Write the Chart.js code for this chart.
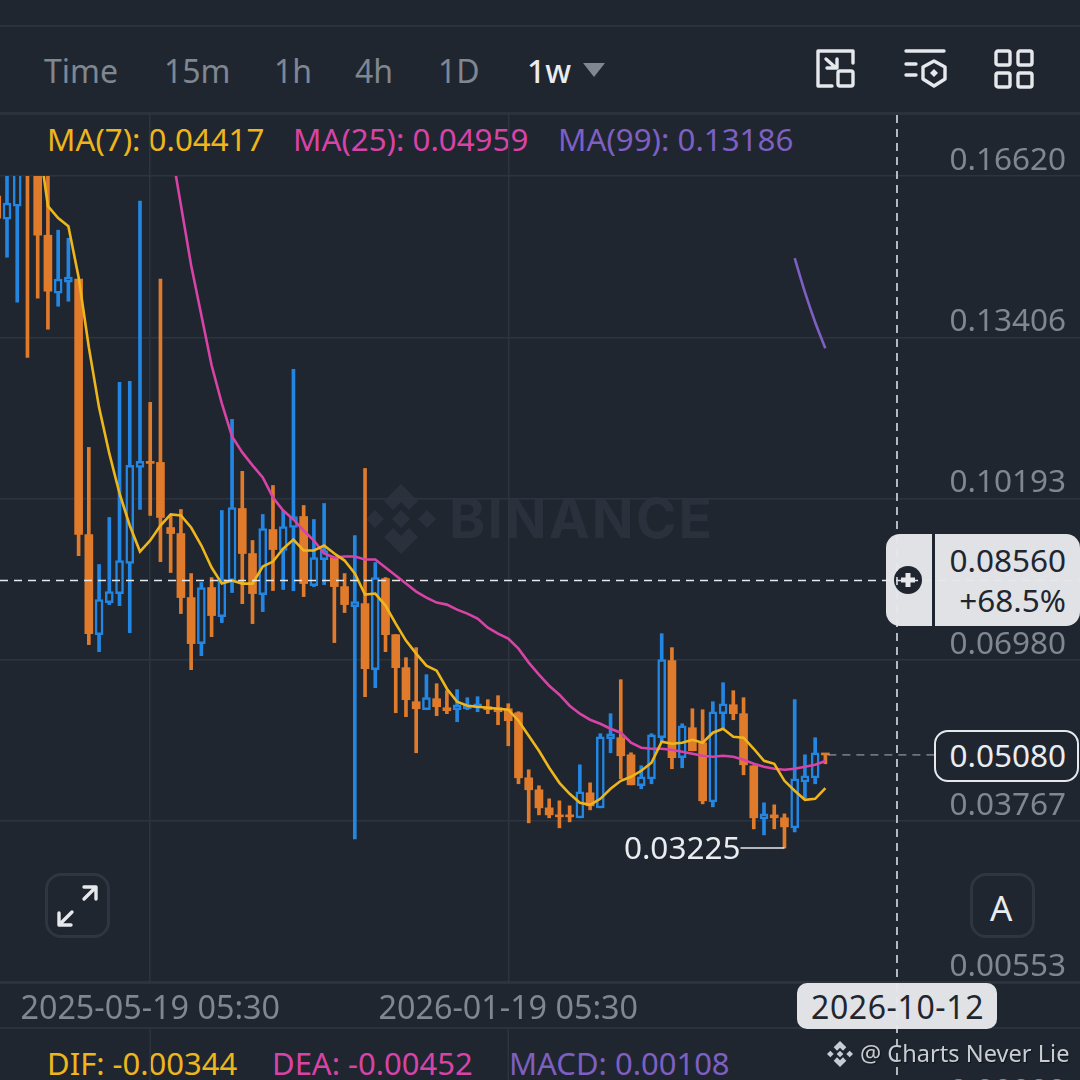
<!DOCTYPE html>
<html lang="en">
<head>
<meta charset="UTF-8">
<title>1w chart</title>
<script src="https://cdn.jsdelivr.net/npm/chart.js"></script>
<style>
    html, body { margin: 0; padding: 0; background: #1f2630; }
    body { position: relative; width: 1080px; height: 1080px; overflow: hidden; font-family: "Noto Sans", sans-serif; }
    canvas { position: absolute; left: 0; top: 0; z-index: 5; }
    .t { position: absolute; white-space: nowrap; line-height: 1; transform: translateY(-50%); }
    .tab { color: #7f8791; font-size: 32px; top: 71px; }
    .leg { font-size: 31.3px; top: 140px; }
    .macd { font-size: 31px; top: 1063px; }
    .hline { position: absolute; left: 0; width: 1080px; height: 2px; background: #2b323d; }
    .box { position: absolute; box-sizing: border-box; border-radius: 14px; }
    .num { font-size: 31.5px; right: 14px; }
    svg { position: absolute; }
</style>
</head>
<body>
<div class="hline" style="top:25px"></div>
<div class="hline" style="top:112px;height:3px"></div>

<div class="t tab" style="left:44px">Time</div>
<div class="t tab" style="left:164px">15m</div>
<div class="t tab" style="left:274px">1h</div>
<div class="t tab" style="left:355px">4h</div>
<div class="t tab" style="left:438px">1D</div>
<div class="t tab" style="left:527px;color:#eaecef;font-weight:500">1w</div>
<svg style="left:582px;top:62px" width="24" height="16"><path d="M1 1H23L12 15Z" fill="#7f8791"/></svg>

<svg style="left:815px;top:48px" width="42" height="42" fill="none" stroke="#e6e8ec" stroke-width="3.4" stroke-linecap="round" stroke-linejoin="round">
    <path d="M17 38H3V3H38V15"/><rect x="23" y="23" width="15" height="15" rx="2"/><path d="M11 11L21 20M22 11V20H12"/>
</svg>
<svg style="left:903px;top:48px" width="46" height="42" fill="none" stroke="#e6e8ec" stroke-width="3.4" stroke-linecap="round" stroke-linejoin="round">
    <path d="M3 3H41M3 16H13M3 27H13"/><path d="M31 13L42 19V31L31 38L20 31V19Z"/><path d="M31 21L35 25L31 29L27 25Z" fill="#e6e8ec" stroke="none"/>
</svg>
<svg style="left:993px;top:48px" width="42" height="42" fill="none" stroke="#e6e8ec" stroke-width="3.4" stroke-linejoin="round">
    <rect x="3" y="3" width="14" height="14" rx="2"/><rect x="25" y="3" width="14" height="14" rx="2"/>
    <rect x="3" y="25" width="14" height="14" rx="2"/><rect x="25" y="25" width="14" height="14" rx="2"/>
</svg>

<div class="t leg" style="left:47px;color:#eeb61b">MA(7): 0.04417</div>
<div class="t leg" style="left:293px;color:#d843a6">MA(25): 0.04959</div>
<div class="t leg" style="left:558px;color:#7e5fc2">MA(99): 0.13186</div>

<!-- watermark under the canvas -->
<svg style="left:366px;top:484px" width="70" height="70" viewBox="0 0 70 70" fill="#2a313c">
    <path d="M35 0L52 17L43 26L35 18L27 26L18 17Z"/><path d="M35 70L52 53L43 44L35 52L27 44L18 53Z"/>
    <path d="M9 26L18 35L9 44L0 35Z"/><path d="M61 26L70 35L61 44L52 35Z"/><path d="M35 26L44 35L35 44L26 35Z"/>
</svg>
<div class="t" style="left:449px;top:518px;font-family:Inter,sans-serif;font-size:55px;font-weight:700;color:#2a313c;letter-spacing:2px">BINANCE</div>

<!-- price tag at the crosshair -->
<div class="box" style="left:886px;top:534px;width:194px;height:92px;background:#e0e2e6"></div>
<div style="position:absolute;left:932px;top:534px;width:3px;height:92px;background:#1f2630"></div>
<svg style="left:894px;top:566px" width="28" height="28"><circle cx="14" cy="14" r="14" fill="#1f2630"/><path d="M14 7V21M7 14H21" stroke="#e6e8ec" stroke-width="5"/></svg>
<div class="t num" style="top:560px;color:#1f2630">0.08560</div>
<div class="t num" style="top:600px;color:#1f2630">+68.5%</div>

<!-- last price tag -->
<div class="box" style="left:934px;top:730px;width:145px;height:52px;background:#1f2630;border:2px solid #e6e8ec"></div>
<div class="t num" style="top:755px;color:#eaecef">0.05080</div>

<div class="box" style="left:45px;top:873px;width:65px;height:65px;border:3px solid #2f3641;border-radius:16px"></div>
<svg style="left:56px;top:884px" width="44" height="44" fill="none" stroke="#e6e8ec" stroke-width="3.4" stroke-linecap="round" stroke-linejoin="round">
    <path d="M28 15L40 3M28 3H40V15M16 28L3 41M3 29V41H15"/>
</svg>
<div class="box" style="left:970px;top:873px;width:65px;height:65px;border:3px solid #2f3641;border-radius:16px"></div>
<div class="t" style="left:990px;top:907px;font-size:35px;color:#eaecef">A</div>

<div class="hline" style="top:982px"></div>
<div class="hline" style="top:1027px"></div>
<div class="box" style="left:797px;top:983px;width:200px;height:46px;background:#e0e2e6;border-radius:10px"></div>
<div class="t" style="left:811px;top:1007px;font-size:32px;letter-spacing:0.6px;color:#1f2630">2026-10-12</div>

<div class="t macd" style="left:47px;color:#eeb61b">DIF: -0.00344</div>
<div class="t macd" style="left:272px;color:#d843a6">DEA: -0.00452</div>
<div class="t macd" style="left:509px;color:#7e5fc2">MACD: 0.00108</div>
<div class="t num" style="top:1089px;color:#7f8791">0.00000</div>

<canvas id="chart" width="1080" height="1080"></canvas>

<svg style="left:827px;top:1041px;z-index:6" width="26" height="26" viewBox="0 0 70 70" fill="#c9cdd3">
    <path d="M35 0L52 17L43 26L35 18L27 26L18 17Z"/><path d="M35 70L52 53L43 44L35 52L27 44L18 53Z"/>
    <path d="M9 26L18 35L9 44L0 35Z"/><path d="M61 26L70 35L61 44L52 35Z"/><path d="M35 26L44 35L35 44L26 35Z"/>
</svg>
<div class="t" style="left:860px;top:1054px;font-size:23.6px;color:#c9cdd3;text-shadow:1px 1px 1px #10141a;z-index:6">@ Charts Never Lie</div>

<script>
// weekly candles, first entry is the one cut off by the left edge
const opens = [
    0.16221, 0.15761, 0.16021, 0.17800, 0.18000, 0.15441, 0.14285, 0.14505, 0.14565, 0.09474,
    0.07478, 0.08117, 0.08297, 0.08896, 0.10812, 0.10932, 0.10912, 0.09614, 0.09494, 0.08217,
    0.07299, 0.08417, 0.07838, 0.08556, 0.09993, 0.09095, 0.08277, 0.09574, 0.09155, 0.09614,
    0.09834, 0.08456, 0.08975, 0.09015, 0.08436, 0.08037, 0.08097, 0.06780, 0.08596, 0.07478,
    0.06820, 0.06141, 0.05981, 0.06201, 0.06021, 0.05981, 0.06001, 0.06021, 0.06041, 0.06021,
    0.06001, 0.05921, 0.04624, 0.04385, 0.04025, 0.03885, 0.03885, 0.03826, 0.04325, 0.04025,
    0.05403, 0.05423, 0.05083, 0.04465, 0.04604, 0.05423, 0.06960, 0.05023, 0.05622, 0.05323,
    0.04145, 0.05902, 0.06081, 0.05902, 0.04864, 0.03806, 0.03885, 0.03826, 0.03626, 0.04544,
    0.04624, 0.05103
];
const closes = [
    0.15781, 0.16081, 0.17000, 0.17000, 0.15441, 0.14325, 0.14565, 0.14605, 0.09474, 0.07498,
    0.08177, 0.08337, 0.08955, 0.10852, 0.10932, 0.10892, 0.09814, 0.09494, 0.08217, 0.07299,
    0.08417, 0.07858, 0.08576, 0.10013, 0.09095, 0.08297, 0.09594, 0.09175, 0.09634, 0.09834,
    0.08496, 0.09015, 0.09155, 0.08436, 0.08077, 0.08137, 0.06800, 0.08616, 0.07478, 0.06820,
    0.06181, 0.06001, 0.06221, 0.06041, 0.05961, 0.06081, 0.06081, 0.06101, 0.05981, 0.05941,
    0.05762, 0.04624, 0.04385, 0.04025, 0.03885, 0.03846, 0.03846, 0.04345, 0.04065, 0.05443,
    0.05503, 0.05063, 0.04484, 0.04644, 0.05483, 0.06979, 0.05023, 0.05662, 0.05163, 0.04165,
    0.05941, 0.06101, 0.05902, 0.04883, 0.03826, 0.03905, 0.03826, 0.03646, 0.04604, 0.04664,
    0.05123, 0.05080
];
const highs = [
    0.16341, 0.17200, 0.17500, 0.18500, 0.18800, 0.17500, 0.15541, 0.15381, 0.14565, 0.11211,
    0.08876, 0.09814, 0.12508, 0.12528, 0.16121, 0.12109, 0.14565, 0.09854, 0.09973, 0.08696,
    0.08517, 0.08616, 0.09953, 0.11770, 0.10732, 0.09355, 0.09874, 0.10452, 0.09953, 0.12768,
    0.10053, 0.09774, 0.10093, 0.09015, 0.08696, 0.09455, 0.10792, 0.08916, 0.08616, 0.07478,
    0.07019, 0.07219, 0.06680, 0.06500, 0.06361, 0.06381, 0.06221, 0.06241, 0.06181, 0.06261,
    0.06101, 0.05941, 0.04784, 0.04465, 0.04205, 0.04165, 0.04065, 0.04883, 0.04524, 0.05503,
    0.05902, 0.06580, 0.05123, 0.04864, 0.05503, 0.07498, 0.07219, 0.05702, 0.06001, 0.05981,
    0.06141, 0.06520, 0.06361, 0.06221, 0.04864, 0.04125, 0.04085, 0.03905, 0.06181, 0.05083,
    0.05423, 0.05103
];
const lows = [
    0.15781, 0.15003, 0.14105, 0.13007, 0.14185, 0.13567, 0.14025, 0.14125, 0.09055, 0.07279,
    0.07139, 0.08077, 0.08057, 0.07518, 0.09973, 0.09854, 0.08935, 0.08716, 0.07898, 0.06780,
    0.07059, 0.07438, 0.07718, 0.08317, 0.08097, 0.07698, 0.07937, 0.08357, 0.08377, 0.08357,
    0.08237, 0.08436, 0.08476, 0.07319, 0.07918, 0.03406, 0.06241, 0.06421, 0.07139, 0.05921,
    0.05842, 0.05123, 0.05981, 0.05862, 0.05902, 0.05742, 0.05981, 0.05941, 0.05902, 0.05682,
    0.05263, 0.04505, 0.03726, 0.03885, 0.03826, 0.03626, 0.03746, 0.03826, 0.03985, 0.04025,
    0.05123, 0.04604, 0.04484, 0.04405, 0.04505, 0.05323, 0.04804, 0.04824, 0.05163, 0.04105,
    0.04045, 0.05622, 0.05782, 0.04684, 0.03606, 0.03486, 0.03606, 0.03225, 0.03546, 0.04225,
    0.04505, 0.04904
];
const ma7 = [
    null, null, null, null, 0.17498, 0.16021, 0.15782, 0.15622, 0.14604, 0.13207,
    0.12009, 0.11091, 0.10293, 0.09654, 0.09135, 0.09355, 0.09654, 0.09874, 0.09854, 0.09614,
    0.09255, 0.08816, 0.08496, 0.08556, 0.08496, 0.08496, 0.08836, 0.08935, 0.09195, 0.09375,
    0.09155, 0.09155, 0.09255, 0.09095, 0.08955, 0.08696, 0.08277, 0.08297, 0.08057, 0.07698,
    0.07359, 0.07099, 0.06860, 0.06760, 0.06400, 0.06141, 0.06061, 0.06041, 0.06021, 0.06001,
    0.05981, 0.05762, 0.05462, 0.05163, 0.04824, 0.04524, 0.04305, 0.04125, 0.04085, 0.04205,
    0.04405, 0.04564, 0.04644, 0.04764, 0.04924, 0.05343, 0.05303, 0.05323, 0.05383, 0.05323,
    0.05523, 0.05602, 0.05443, 0.05423, 0.05203, 0.04964, 0.04904, 0.04564, 0.04365, 0.04185,
    0.04205, 0.04417
];
const ma25 = [
    null, null, null, null, null, null, null, null, null, null,
    null, null, null, null, null, null, null, 0.17239, 0.16041, 0.14844,
    0.13846, 0.12848, 0.12089, 0.11430, 0.11111, 0.10852, 0.10612, 0.10213, 0.09953, 0.09774,
    0.09555, 0.09355, 0.09095, 0.09015, 0.09035, 0.09035, 0.08975, 0.08975, 0.08816, 0.08656,
    0.08496, 0.08337, 0.08217, 0.08117, 0.08077, 0.07977, 0.07898, 0.07798, 0.07618, 0.07498,
    0.07399, 0.07199, 0.06920, 0.06680, 0.06460, 0.06281, 0.06061, 0.05902, 0.05782, 0.05702,
    0.05602, 0.05523, 0.05323, 0.05223, 0.05203, 0.05203, 0.05183, 0.05143, 0.05103, 0.05063,
    0.05043, 0.05063, 0.05043, 0.04983, 0.04904, 0.04844, 0.04804, 0.04784, 0.04804, 0.04844,
    0.04884, 0.04959
];
const ma99 = [
    null, null, null, null, null, null, null, null, null, null,
    null, null, null, null, null, null, null, null, null, null,
    null, null, null, null, null, null, null, null, null, null,
    null, null, null, null, null, null, null, null, null, null,
    null, null, null, null, null, null, null, null, null, null,
    null, null, null, null, null, null, null, null, null, null,
    null, null, null, null, null, null, null, null, null, null,
    null, null, null, null, null, null, null, null, 0.14983, 0.14305,
    0.13706, 0.13186
];

const priceTicks = [0.16620, 0.13406, 0.10193, 0.06980, 0.03767, 0.00553];
const priceTickLabels = ['0.16620', '0.13406', '0.10193', '0.06980', '0.03767', '0.00553'];
const dateTicks = [15, 50];
const dateTickLabels = ['2025-05-19 05:30', '2026-01-19 05:30'];
const crossWeek = 88;
const crossPrice = 0.08560;
const lastPrice = 0.05080;
const lowWeek = 77;
const lowPrice = 0.03225;

const UP = '#2386e2';
const DOWN = '#e07b2c';
const BG = '#1f2630';
const GRID = '#2d343f';
const FONT = '"Noto Sans", sans-serif';

const isUp = i => closes[i] >= opens[i];

// dashed crosshair, last price line, low marker and the bits of grid below the axis
const overlay = {
    id: 'overlay',
    afterDraw(chart) {
        const { ctx, scales: { x, y }, chartArea } = chart;
        ctx.save();

        ctx.strokeStyle = GRID;
        ctx.lineWidth = 1.5;
        dateTicks.forEach(t => {
            const px = x.getPixelForValue(t);
            ctx.beginPath();
            ctx.moveTo(px, 1029);
            ctx.lineTo(px, 1080);
            ctx.stroke();
        });

        ctx.strokeStyle = '#e6e8ec';
        ctx.lineWidth = 1.5;
        ctx.setLineDash([8, 6]);
        const crossX = x.getPixelForValue(crossWeek);
        ctx.beginPath();
        ctx.moveTo(crossX, chartArea.top);
        ctx.lineTo(crossX, 1080);
        ctx.stroke();
        const crossY = y.getPixelForValue(crossPrice);
        ctx.beginPath();
        ctx.moveTo(0, crossY);
        ctx.lineTo(1080, crossY);
        ctx.stroke();

        ctx.strokeStyle = '#aab0b8';
        ctx.lineWidth = 1;
        const lastY = y.getPixelForValue(lastPrice);
        ctx.beginPath();
        ctx.moveTo(x.getPixelForValue(closes.length - 1) + 3, lastY);
        ctx.lineTo(934, lastY);
        ctx.stroke();
        ctx.setLineDash([]);

        const lowX = x.getPixelForValue(lowWeek);
        const lowY = y.getPixelForValue(lowPrice);
        ctx.strokeStyle = '#e6e8ec';
        ctx.lineWidth = 1.5;
        ctx.beginPath();
        ctx.moveTo(lowX, lowY);
        ctx.lineTo(lowX - 44, lowY);
        ctx.stroke();
        ctx.fillStyle = '#eaecef';
        ctx.font = '31.5px ' + FONT;
        ctx.textAlign = 'right';
        ctx.textBaseline = 'middle';
        ctx.fillText(lowPrice.toFixed(5), lowX - 44, lowY + 2);

        ctx.restore();
    }
};

const clipTop = { left: 0, right: 0, top: -61, bottom: 0 };

new Chart(document.getElementById('chart').getContext('2d'), {
    type: 'bar',
    data: {
        datasets: [
            {
                type: 'line', label: 'MA(7)', order: 1, clip: clipTop,
                data: ma7.map((v, i) => ({ x: i, y: v })),
                borderColor: '#eeb61b', borderWidth: 2.6, pointRadius: 0, tension: 0
            },
            {
                type: 'line', label: 'MA(25)', order: 2, clip: clipTop,
                data: ma25.map((v, i) => ({ x: i, y: v })),
                borderColor: '#d843a6', borderWidth: 2.6, pointRadius: 0, tension: 0
            },
            {
                type: 'line', label: 'MA(99)', order: 3, clip: clipTop,
                data: ma99.map((v, i) => ({ x: i, y: v })),
                borderColor: '#7e5fc2', borderWidth: 2.6, pointRadius: 0, tension: 0.3
            },
            {
                label: 'body', order: 4, clip: clipTop, grouped: false,
                data: opens.map((o, i) => ({ x: i, y: [o, closes[i]] })),
                barThickness: 8, minBarLength: 2, borderSkipped: false,
                backgroundColor: c => isUp(c.dataIndex) ? BG : DOWN,
                borderColor: c => isUp(c.dataIndex) ? UP : DOWN,
                borderWidth: c => isUp(c.dataIndex) ? 2.5 : 0
            },
            {
                label: 'wick', order: 5, clip: clipTop, grouped: false,
                data: lows.map((l, i) => ({ x: i, y: [l, highs[i]] })),
                barThickness: 3, borderWidth: 0,
                backgroundColor: c => isUp(c.dataIndex) ? UP : DOWN
            }
        ]
    },
    options: {
        responsive: false,
        animation: false,
        devicePixelRatio: 1,
        layout: { padding: { top: 115, bottom: 52, left: 0, right: 0 } },
        plugins: { legend: { display: false }, tooltip: { enabled: false } },
        scales: {
            x: {
                type: 'linear',
                offset: false,
                min: 0.3157,
                max: 105.89,
                afterBuildTicks: s => { s.ticks = dateTicks.map(v => ({ value: v })); },
                afterFit: s => { s.height = 46; },
                grid: { color: GRID, lineWidth: 1.5, offset: false, drawTicks: false },
                border: { display: false },
                ticks: {
                    autoSkip: false, maxRotation: 0, padding: 8,
                    color: '#7f8791', font: { family: FONT, size: 32.3 },
                    callback: (v) => dateTickLabels[dateTicks.indexOf(v)]
                }
            },
            y: {
                type: 'linear',
                position: 'right',
                min: 0.00553,
                max: 0.17838,
                afterBuildTicks: s => { s.ticks = priceTicks.map(v => ({ value: v })); },
                afterFit: s => { s.width = 0; },
                grid: { color: GRID, lineWidth: 1.5, drawTicks: false },
                border: { display: false },
                ticks: {
                    mirror: true, padding: -14, labelOffset: -15,
                    color: '#7f8791', font: { family: FONT, size: 31.5 },
                    callback: (v) => priceTickLabels[priceTicks.indexOf(v)]
                }
            }
        }
    },
    plugins: [overlay]
});
</script>
</body>
</html>
